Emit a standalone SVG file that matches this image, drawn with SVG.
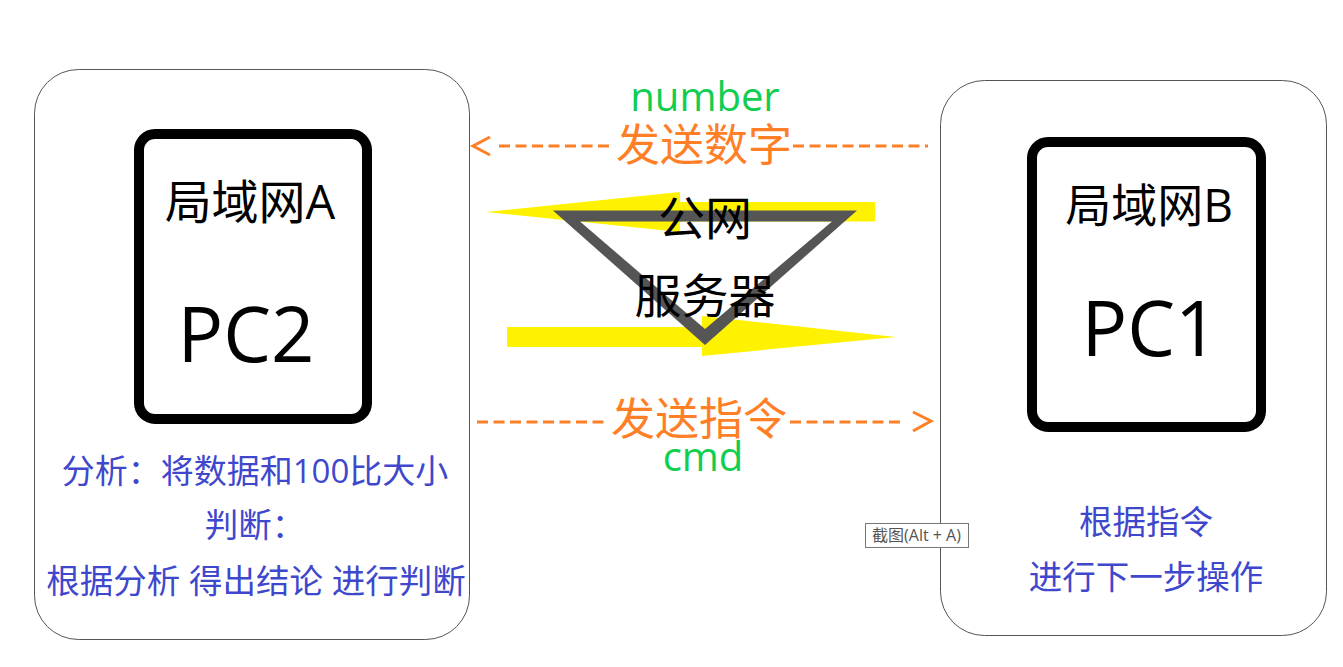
<svg xmlns="http://www.w3.org/2000/svg" width="1343" height="667" viewBox="0 0 1343 667">
<style>
text{font-family:"Open Sans","Noto Sans CJK SC","Noto Sans",sans-serif;text-anchor:middle}
.box{fill:#fff;stroke:#555;stroke-width:1}
.pc{fill:#fff;stroke:#000;stroke-width:10}
.k{fill:#000;font-size:47px}
.kb{fill:#000;font-size:46px}
.pcn{fill:#000;font-size:76px}
.b{fill:#3f48cc;font-size:33.500px}
.b1{fill:#3f48cc;font-size:33px}
.o{fill:#ff7f27;font-size:44px}
.g{fill:#0fce50;font-size:40px}
.d{fill:none;stroke:#ff7f27;stroke-width:3;stroke-dasharray:11 5.500}
.h{fill:none;stroke:#ff7f27;stroke-width:3}
</style>
<rect width="1343" height="667" fill="#fff"/>
<g id="lan-a">
<rect class="box" x="34.500" y="69.500" width="435" height="570" rx="44"/>
<rect class="pc" x="139" y="134" width="228" height="285" rx="16"/>
<text class="k" x="250" y="219">局域网A</text>
<text class="pcn" x="246" y="362">PC2</text>
<text class="b1" x="255" y="483">分析：将数据和100比大小</text>
<text class="b" x="255" y="537">判断：</text>
<text class="b" x="256" y="593">根据分析 得出结论 进行判断</text>
</g>
<g id="lan-b">
<rect class="box" x="940.500" y="80.500" width="386" height="555" rx="44"/>
<rect class="pc" x="1032" y="142" width="229" height="285" rx="16"/>
<text class="kb" x="1149" y="222">局域网B</text>
<text class="pcn" x="1150" y="356">PC1</text>
<text class="b" x="1146" y="534">根据指令</text>
<text class="b" x="1146" y="589">进行下一步操作</text>
</g>
<g id="server">
<path d="M486 212L680 192V202H875V221.500H680V232Z" fill="#fff200"/>
<path d="M507 327H702V316L896 337L702 356V347H507Z" fill="#fff200"/>
<path fill-rule="evenodd" d="M553 210.500H857L705 345ZM580 221.500L705 329L832 221.500Z" fill="#555"/>
<text class="k" x="705" y="235">公网</text>
<text class="k" x="705" y="313">服务器</text>
</g>
<g id="connectors">
<path class="d" d="M499 146H614M793 146H928"/>
<path class="h" d="M490 137L473 146L490 155"/>
<path class="d" d="M477 422H608M790 422H905"/>
<path class="h" d="M913 412L931 421L913 431"/>
</g>
<g id="labels">
<text class="g" x="705" y="111">number</text>
<text class="o" x="704" y="161">发送数字</text>
<text class="o" x="699" y="435">发送指令</text>
<text class="g" x="703" y="471">cmd</text>
</g>
<g id="tooltip">
<rect x="865.500" y="523.500" width="103" height="24" fill="#fff" stroke="#777"/>
<text x="916.500" y="541" font-size="16" fill="#555">截图(Alt + A)</text>
</g>
</svg>
